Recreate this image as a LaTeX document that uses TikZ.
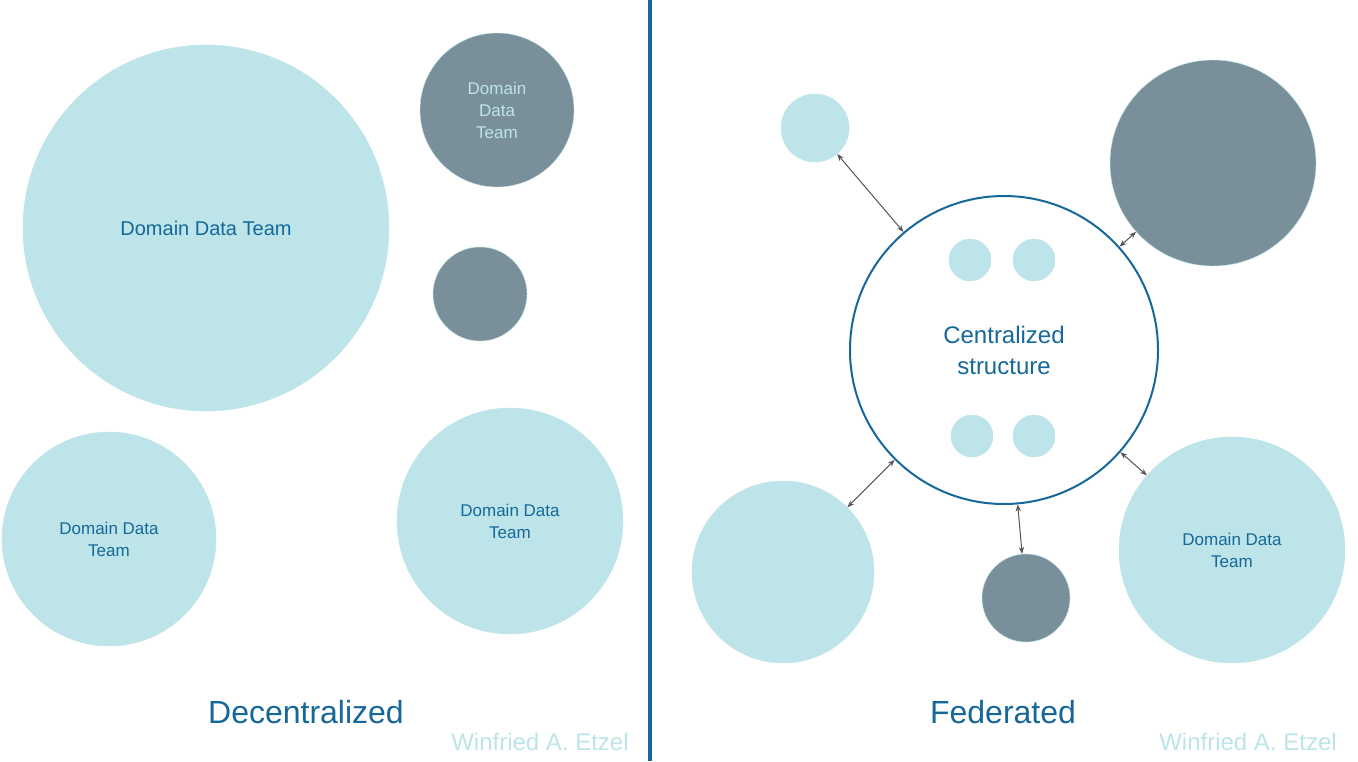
\documentclass[tikz,border=0pt]{standalone}
\usepackage{fontspec}
\setmainfont{Liberation Sans}
\usetikzlibrary{arrows.meta}
\definecolor{lt}{HTML}{BDE4E8}
\definecolor{dk}{HTML}{798F99}
\definecolor{bl}{HTML}{16689A}
\definecolor{gr}{HTML}{555555}
\tikzset{
 lc/.style={circle,fill=lt,draw=lt,inner sep=0pt,minimum size=#1,align=center,text=bl},
 dc/.style={circle,fill=dk,draw=lt,inner sep=0pt,minimum size=#1,align=center,text=lt},
 arr/.style={draw=gr,line width=1pt,{Stealth[length=7pt]}-{Stealth[length=7pt]}},
 ttl/.style={text=bl,font=\fontsize{32}{36}\selectfont},
 sig/.style={text=lt,font=\fontsize{24}{28}\selectfont}
}
\begin{document}
\begin{tikzpicture}[x=1pt,y=-1pt]
\useasboundingbox (0,0) rectangle (1358,761);
\fill[white] (0,0) rectangle (1358,761);
\draw[bl,line width=4pt] (650,0) -- (650,761);
\node[lc=366pt,font=\fontsize{20}{24}\selectfont] (a) at (206,228) {Domain Data Team};
\node[dc=154pt,font=\fontsize{17}{22}\selectfont] (b) at (497,110) {Domain\\Data\\Team};
\node[dc=94pt] (c) at (480,294) {};
\node[lc=214pt,font=\fontsize{17}{22}\selectfont] (d) at (109,539) {Domain Data\\Team};
\node[lc=226pt,font=\fontsize{17}{22}\selectfont] (e) at (510,521) {Domain Data\\Team};
\node[ttl] (t1) at (306,712) {Decentralized};
\node[sig] (s1) at (540,742) {Winfried A. Etzel};
\node[circle,draw=bl,line width=2pt,fill=white,minimum size=308pt,align=center,text=bl,font=\fontsize{24}{31}\selectfont] (cs) at (1004,350) {Centralized\\structure};
\node[lc=42pt] (i1) at (970,260) {};
\node[lc=42pt] (i2) at (1034,260) {};
\node[lc=42pt] (i3) at (972,436) {};
\node[lc=42pt] (i4) at (1034,436) {};
\node[lc=68pt] (f1) at (815,128) {};
\node[dc=206pt] (f2) at (1213,163) {};
\node[lc=182pt] (f3) at (783,572) {};
\node[dc=88pt] (f4) at (1026,598) {};
\node[lc=226pt,font=\fontsize{17}{22}\selectfont] (f5) at (1232,550) {Domain Data\\Team};
\draw[arr] (f1) -- (cs);
\draw[arr] (f2) -- (cs);
\draw[arr] (f3) -- (cs);
\draw[arr] (f4) -- (cs);
\draw[arr] (f5) -- (cs);
\node[ttl] (t2) at (1003,712) {Federated};
\node[sig] (s2) at (1248,742) {Winfried A. Etzel};
\end{tikzpicture}
\end{document}
